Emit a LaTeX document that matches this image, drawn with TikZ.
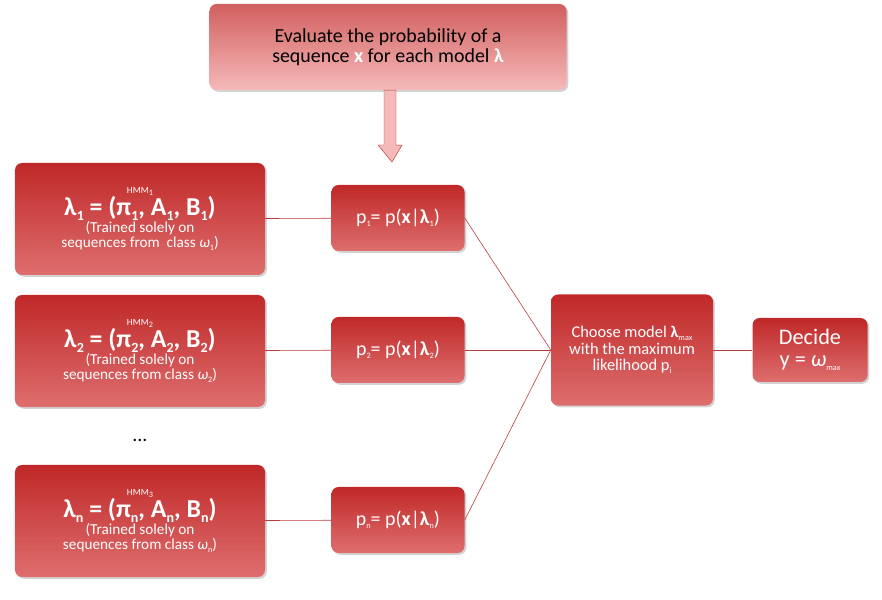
\documentclass[tikz,border=0pt]{standalone}
\usepackage{fontspec}
\setmainfont{Carlito}
\usetikzlibrary{shadows,calc}
\definecolor{redtop}{RGB}{192,40,40}
\definecolor{redbot}{RGB}{222,110,110}
\definecolor{pinktop}{RGB}{210,95,95}
\definecolor{pinkbot}{RGB}{245,185,185}
\definecolor{linered}{RGB}{185,60,60}
\newcommand\low[1]{\raisebox{-0.35ex}{\fontsize{7}{8}\selectfont #1}}
\newcommand\biglow[1]{\raisebox{-0.35ex}{\fontsize{12}{13}\selectfont #1}}
\newcommand\fs[1]{\fontsize{#1}{#1}\selectfont}
\begin{document}
\begin{tikzpicture}[x=0.03cm,y=-0.03cm,
    box/.style={
      rounded corners=6pt,
      top color=redtop,
      bottom color=redbot,
      draw=none,
      text=white,
      align=center,
      drop shadow={opacity=0.35,shadow xshift=1.5pt,shadow yshift=-1.5pt},
      inner sep=0pt
    },
    hmm/.style={box, minimum width=7.5cm, minimum height=3.36cm},
    prob/.style={box, minimum width=3.99cm, minimum height=1.98cm},
    link/.style={draw=linered, line width=0.5pt}
  ]
    \useasboundingbox (0,0) rectangle (882,600);
    \node[box, top color=pinktop, bottom color=pinkbot, text=black,
      minimum width=10.71cm, minimum height=2.58cm, font=\fs{17}] (evaluate) at (388,47)
      {Evaluate the probability of a\\sequence {\color{white}\bfseries x} for each model {\color{white}\bfseries λ}};
    \node[hmm, font=\fs{13}] (hmm1) at (140,219) {{\fs{8}HMM\low{1}}\\
      {\fs{22}\bfseries λ\biglow{1} = (π\biglow{1}, A\biglow{1}, B\biglow{1})}\\
      (Trained solely on\\sequences from\ \ class \textit{ω}\low{1})};
    \node[hmm, font=\fs{13}] (hmm2) at (140,351) {{\fs{8}HMM\low{2}}\\
      {\fs{22}\bfseries λ\biglow{2} = (π\biglow{2}, A\biglow{2}, B\biglow{2})}\\
      (Trained solely on\\sequences from class \textit{ω}\low{2})};
    \node[font=\fs{17}] (dots) at (140,440) {...};
    \node[hmm, font=\fs{13}] (hmmn) at (140,521) {{\fs{8}HMM\low{3}}\\
      {\fs{22}\bfseries λ\biglow{n} = (π\biglow{n}, A\biglow{n}, B\biglow{n})}\\
      (Trained solely on\\sequences from class \textit{ω}\low{n})};
    \node[prob, font=\fs{17}] (p1) at (398,218) {p\low{1}= p(\textbf{x}|\textbf{λ}\low{1})};
    \node[prob, font=\fs{17}] (p2) at (398,350) {p\low{2}= p(\textbf{x}|\textbf{λ}\low{2})};
    \node[prob, font=\fs{17}] (pn) at (398,520) {p\low{n}= p(\textbf{x}|\textbf{λ}\low{n})};
    \node[box, minimum width=4.86cm, minimum height=3.33cm, font=\fs{14}] (choose) at (632,350)
      {Choose model \textbf{λ}\low{max}\\with the maximum\\likelihood p\low{i}};
    \node[box, minimum width=3.45cm, minimum height=1.92cm, font=\fs{19}] (decide) at (810,350)
      {Decide\\y = \textit{ω}\low{max}};
    \coordinate (arrowtip) at (392,162);

    \draw[draw=linered, fill=pinkbot, line width=0.4pt]
      (evaluate.south) -- ++(8,0) -- ++(0,55) -- ++(6,0) -- (arrowtip)
      -- ++(-14,-17) -- ++(6,0) -- ++(0,-55) -- cycle;
    \path[link]
      (hmm1) edge (p1)
      (hmm2) edge (p2)
      (hmmn) edge (pn)
      (p1.east) edge (choose.west)
      (p2.east) edge (choose.west)
      (pn.east) edge (choose.west)
      (choose) edge (decide);
  \end{tikzpicture}
\end{document}
